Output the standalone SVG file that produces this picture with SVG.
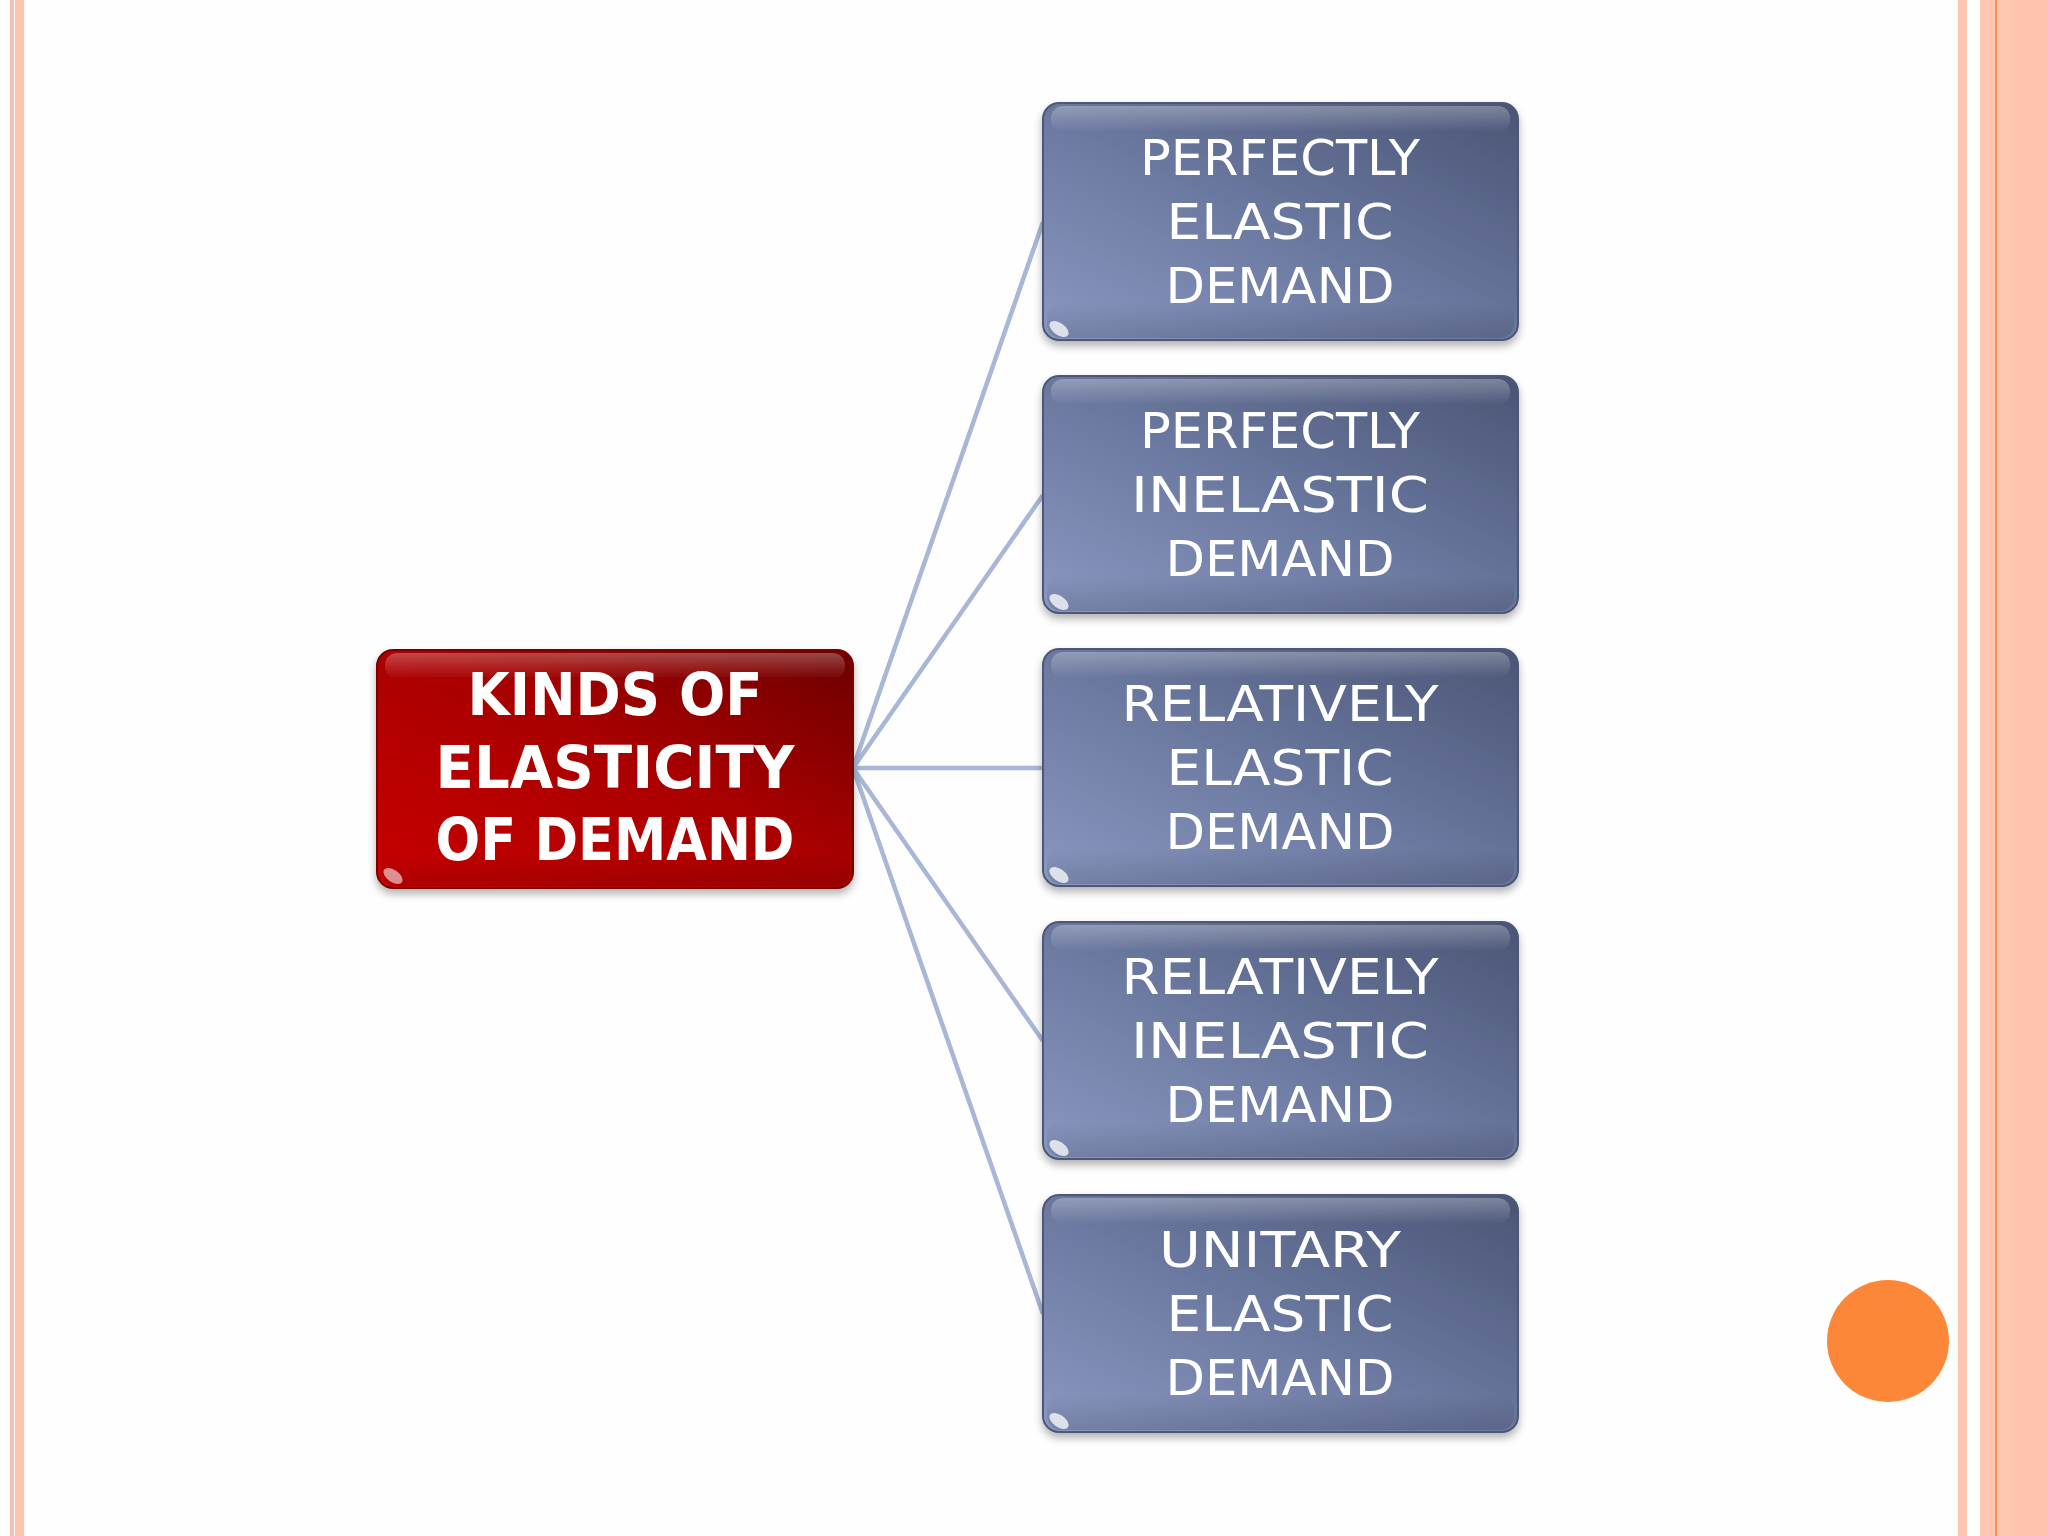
<svg xmlns="http://www.w3.org/2000/svg" width="2048" height="1536" viewBox="0 0 2048 1536">
<defs>
<linearGradient id="blueG" x1="0" y1="1" x2="1" y2="0">
<stop offset="0" stop-color="#8a98c2"/>
<stop offset="0.5" stop-color="#6a779e"/>
<stop offset="1" stop-color="#4a5575"/>
</linearGradient>
<linearGradient id="redG" x1="0" y1="1" x2="1" y2="0">
<stop offset="0" stop-color="#c80606"/>
<stop offset="0.55" stop-color="#a80000"/>
<stop offset="1" stop-color="#6c0000"/>
</linearGradient>
<linearGradient id="topHi" x1="0" y1="0" x2="0" y2="1">
<stop offset="0" stop-color="#ffffff" stop-opacity="0.28"/>
<stop offset="1" stop-color="#ffffff" stop-opacity="0"/>
</linearGradient>
<linearGradient id="botDark" x1="0" y1="0" x2="0" y2="1">
<stop offset="0" stop-color="#000000" stop-opacity="0"/>
<stop offset="1" stop-color="#000000" stop-opacity="0.25"/>
</linearGradient>
<filter id="sh" x="-10%" y="-10%" width="120%" height="130%">
<feGaussianBlur in="SourceAlpha" stdDeviation="4"/>
<feOffset dy="5" result="b"/>
<feComponentTransfer><feFuncA type="linear" slope="0.3"/></feComponentTransfer>
<feMerge><feMergeNode/><feMergeNode in="SourceGraphic"/></feMerge>
</filter>
<g id="blueBox">
<rect x="0" y="0" width="475" height="237" rx="16" fill="url(#blueG)" stroke="#4d5878" stroke-width="2"/>
<rect x="8" y="3" width="459" height="26" rx="12" fill="url(#topHi)"/>
<rect x="4" y="200" width="467" height="35" rx="14" fill="url(#botDark)" opacity="0.6"/>
<ellipse cx="16" cy="226" rx="11" ry="6" fill="#ffffff" opacity="0.75" transform="rotate(35 16 226)"/>
</g>
</defs>
<style>
.bt{font-family:"DejaVu Sans","Liberation Sans",sans-serif;font-size:50px;fill:#ffffff;text-anchor:middle}
.rt{font-family:"DejaVu Sans","Liberation Sans",sans-serif;font-size:58px;font-weight:bold;fill:#ffffff;text-anchor:middle}
.conn{stroke:#a9b7d6;stroke-width:4.5;fill:none}
</style>
<rect width="2048" height="1536" fill="#fdfefd"/>
<g id="borders">
<rect x="10" y="0" width="4" height="1536" fill="#f4bfb4"/>
<rect x="15" y="0" width="9" height="1536" fill="#fbc4ae"/>
<rect x="1958" y="0" width="9" height="1536" fill="#fcc6b2"/>
<rect x="1980" y="0" width="68" height="1536" fill="#fdc7b2"/>
<rect x="1995" y="0" width="2" height="1536" fill="#f8905a"/>
<rect x="2012" y="0" width="36" height="1536" fill="#fec4ad"/>
</g>
<circle cx="1888" cy="1341" r="61" fill="#fd8738"/>
<g id="connectors">
<line class="conn" x1="853" y1="768" x2="1043" y2="222"/>
<line class="conn" x1="853" y1="768" x2="1043" y2="495"/>
<line class="conn" x1="853" y1="768" x2="1043" y2="768"/>
<line class="conn" x1="853" y1="768" x2="1043" y2="1041"/>
<line class="conn" x1="853" y1="768" x2="1043" y2="1314"/>
</g>
<g id="root" filter="url(#sh)">
<rect x="377" y="650" width="476" height="238" rx="16" fill="url(#redG)" stroke="#7a0000" stroke-width="2"/>
<rect x="385" y="653" width="460" height="26" rx="12" fill="url(#topHi)"/>
<rect x="381" y="852" width="468" height="34" rx="14" fill="url(#botDark)" opacity="0.5"/>
<ellipse cx="393" cy="876" rx="11" ry="6" fill="#ffffff" opacity="0.55" transform="rotate(35 393 876)"/>
<text class="rt" x="615" y="715" textLength="295" lengthAdjust="spacingAndGlyphs">KINDS OF</text>
<text class="rt" x="615" y="788" textLength="359" lengthAdjust="spacingAndGlyphs">ELASTICITY</text>
<text class="rt" x="615" y="860" textLength="359" lengthAdjust="spacingAndGlyphs">OF DEMAND</text>
</g>
<g id="n1" filter="url(#sh)">
<use href="#blueBox" x="1043" y="103"/>
<text class="bt" x="1280" y="175" textLength="280" lengthAdjust="spacingAndGlyphs">PERFECTLY</text>
<text class="bt" x="1280" y="239" textLength="227" lengthAdjust="spacingAndGlyphs">ELASTIC</text>
<text class="bt" x="1280" y="303" textLength="229" lengthAdjust="spacingAndGlyphs">DEMAND</text>
</g>
<g id="n2" filter="url(#sh)">
<use href="#blueBox" x="1043" y="376"/>
<text class="bt" x="1280" y="448" textLength="280" lengthAdjust="spacingAndGlyphs">PERFECTLY</text>
<text class="bt" x="1280" y="512" textLength="298" lengthAdjust="spacingAndGlyphs">INELASTIC</text>
<text class="bt" x="1280" y="576" textLength="229" lengthAdjust="spacingAndGlyphs">DEMAND</text>
</g>
<g id="n3" filter="url(#sh)">
<use href="#blueBox" x="1043" y="649"/>
<text class="bt" x="1280" y="721" textLength="317" lengthAdjust="spacingAndGlyphs">RELATIVELY</text>
<text class="bt" x="1280" y="785" textLength="227" lengthAdjust="spacingAndGlyphs">ELASTIC</text>
<text class="bt" x="1280" y="849" textLength="229" lengthAdjust="spacingAndGlyphs">DEMAND</text>
</g>
<g id="n4" filter="url(#sh)">
<use href="#blueBox" x="1043" y="922"/>
<text class="bt" x="1280" y="994" textLength="317" lengthAdjust="spacingAndGlyphs">RELATIVELY</text>
<text class="bt" x="1280" y="1058" textLength="298" lengthAdjust="spacingAndGlyphs">INELASTIC</text>
<text class="bt" x="1280" y="1122" textLength="229" lengthAdjust="spacingAndGlyphs">DEMAND</text>
</g>
<g id="n5" filter="url(#sh)">
<use href="#blueBox" x="1043" y="1195"/>
<text class="bt" x="1280" y="1267" textLength="242" lengthAdjust="spacingAndGlyphs">UNITARY</text>
<text class="bt" x="1280" y="1331" textLength="227" lengthAdjust="spacingAndGlyphs">ELASTIC</text>
<text class="bt" x="1280" y="1395" textLength="229" lengthAdjust="spacingAndGlyphs">DEMAND</text>
</g>
</svg>
